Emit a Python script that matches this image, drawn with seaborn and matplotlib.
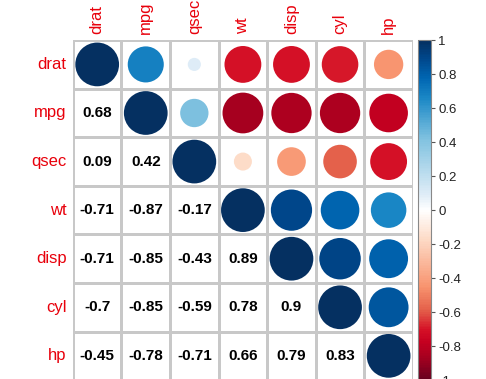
import numpy as np
import pandas as pd
import matplotlib
matplotlib.use("Agg")
import matplotlib.pyplot as plt
import seaborn as sns
from matplotlib.colors import ListedColormap, Normalize, LinearSegmentedColormap
from matplotlib.patches import Circle
import matplotlib as mpl

labels = ["drat", "mpg", "qsec", "wt", "disp", "cyl", "hp"]
# lower-triangle correlations, row by row
r_drat = [1.00]
r_mpg = [0.68, 1.00]
r_qsec = [0.09, 0.42, 1.00]
r_wt = [-0.71, -0.87, -0.17, 1.00]
r_disp = [-0.71, -0.85, -0.43, 0.89, 1.00]
r_cyl = [-0.70, -0.85, -0.59, 0.78, 0.90, 1.00]
r_hp = [-0.45, -0.78, -0.71, 0.66, 0.79, 0.83, 1.00]
rows = [r_drat, r_mpg, r_qsec, r_wt, r_disp, r_cyl, r_hp]
cbar_ticks = [1, 0.8, 0.6, 0.4, 0.2, 0, -0.2, -0.4, -0.6, -0.8, -1]

n = len(labels)
M = np.eye(n)
for i, row in enumerate(rows):
    for j, v in enumerate(row):
        M[i, j] = v
        M[j, i] = v
df = pd.DataFrame(M, index=labels, columns=labels)

def fmt(v):
    s = f"{round(v, 2):.2f}".rstrip("0").rstrip(".")
    return s

annot = np.empty((n, n), dtype=object)
for i in range(n):
    for j in range(n):
        annot[i, j] = fmt(M[i, j]) if i > j else ""

# vivid red-white-blue palette like the reference
anchors = [(-1.0, "#67001F"), (-0.87, "#A6001F"), (-0.78, "#C50020"),
           (-0.71, "#D40F26"), (-0.59, "#E4604A"), (-0.45, "#F8946F"),
           (-0.17, "#FDDBC7"), (0.0, "#FFFFFF"), (0.09, "#E0EDF7"),
           (0.42, "#80C2E0"), (0.66, "#1B88C6"), (0.78, "#0066B2"),
           (0.9, "#00468A"), (1.0, "#053061")]
cmap = LinearSegmentedColormap.from_list(
    "corr", [((p + 1) / 2, c) for p, c in anchors], N=200)
norm = Normalize(-1, 1)

plt.rcParams["font.family"] = ["Liberation Sans", "DejaVu Sans"]
fig = plt.figure(figsize=(4.86, 3.79), dpi=100)
ax = fig.add_axes([0.150, -0.003, 0.6996, 0.8971])
sns.heatmap(df, ax=ax, cmap=ListedColormap(["white"]), cbar=False,
            annot=annot, fmt="", linewidths=1, linecolor="#C8C8C8",
            annot_kws={"fontsize": 11, "fontweight": "bold", "color": "black"},
            square=False)

for i in range(n):
    for j in range(n):
        if j >= i:
            v = M[i, j]
            rad = 0.45 * np.sqrt(abs(v))
            ax.add_patch(Circle((j + 0.5, i + 0.5), rad, facecolor=cmap(norm(v)),
                                edgecolor="none", zorder=3))

ax.xaxis.tick_top()
ax.set_xticks(np.arange(n) + 0.5)
ax.set_xticklabels(labels, rotation=90, color="#E8000B", fontsize=12)
ax.set_yticklabels(labels, rotation=0, color="#E8000B", fontsize=12)
ax.tick_params(length=0, pad=4.5)
ax.set_xlabel("")
ax.set_ylabel("")
for s in ax.spines.values():
    s.set_visible(False)

cax = fig.add_axes([0.860, -0.003, 0.027, 0.8971])
cb = mpl.colorbar.ColorbarBase(cax, cmap=cmap, norm=norm, orientation="vertical")
cb.set_ticks(cbar_ticks)
cb.set_ticklabels([fmt(t) if t != 0 else "0" for t in cbar_ticks])
cb.outline.set_edgecolor("#888888")
cb.outline.set_linewidth(0.8)
cax.tick_params(labelsize=9.5, length=3, width=0.8, color="#555555", labelcolor="#222222", pad=2)

fig.savefig("out.png", dpi=100)
